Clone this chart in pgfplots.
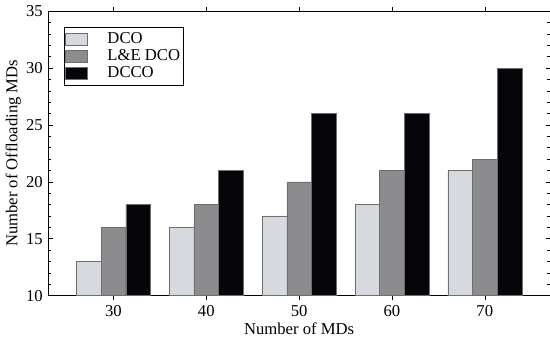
\documentclass[border=0pt]{standalone}
\usepackage{pgfplots}
\pgfplotsset{compat=1.18}
\usepackage{fontspec}
\setmainfont{Liberation Serif}
\definecolor{cDCO}{RGB}{214,218,222}
\definecolor{cLE}{RGB}{140,140,142}
\definecolor{cDCCO}{RGB}{6,6,10}
\definecolor{cedge}{RGB}{110,110,110}
\begin{document}
\begin{tikzpicture}[x=1bp,y=1bp]
\fontsize{16.5bp}{18bp}\selectfont
\begin{axis}[
  scale only axis,
  width=497bp, height=282bp,
  xmin=-0.7, xmax=4.7,
  ymin=10, ymax=35,
  xtick={0,1,2,3,4},
  xticklabels={30,40,50,60,70},
  ytick={10,15,20,25,30,35},
  minor y tick num=4,
  tick align=inside,
  tick style={black, line width=0.4pt},
  major tick length=4bp, minor tick length=2.5bp,
  /pgf/number format/assume math mode=true,
  ticklabel style={font=\fontsize{16.5bp}{18bp}\selectfont},
  label style={font=\fontsize{16.5bp}{18bp}\selectfont},
  xlabel={Number of MDs},
  ylabel={Number of Offloading MDs},
  xlabel style={yshift=5bp},
  ylabel style={yshift=-6bp},
  ybar=0pt,
  bar width=24.5bp,
  legend style={at={(0.03,0.943)}, anchor=north west, draw=black, line width=0.4pt,
    font=\fontsize{16.5bp}{18bp}\selectfont, row sep=-0.5bp, inner xsep=1bp, inner ysep=3bp},
  legend cell align=left,
  legend image code/.code={\draw[#1, draw=cedge] (0bp,-6bp) rectangle (22bp,6bp); \path (40bp,0bp);},
  axis line style={line width=0.5pt},
]
\addplot[fill=cDCO, draw=cedge, line width=0.4pt] coordinates {(0,13) (1,16) (2,17) (3,18) (4,21)};
\addplot[fill=cLE, draw=cedge, line width=0.4pt] coordinates {(0,16) (1,18) (2,20) (3,21) (4,22)};
\addplot[fill=cDCCO, draw=cedge, line width=0.4pt] coordinates {(0,18) (1,21) (2,26) (3,26) (4,30)};
\legend{DCO, L\&E DCO, DCCO}
\end{axis}
\end{tikzpicture}
\end{document}
